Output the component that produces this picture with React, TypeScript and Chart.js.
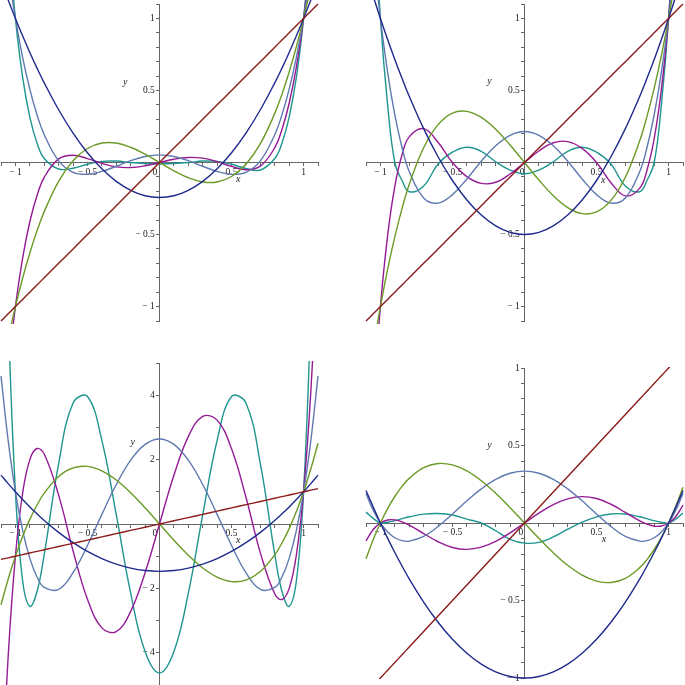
import React, { useEffect, useRef } from "react";
import { Chart, registerables } from "chart.js";

Chart.register(...registerables);

// ---------- data ----------
const xGrid = [-1.1, -1.05, -1, -0.95, -0.9, -0.85, -0.8, -0.7, -0.6, -0.5, -0.4, -0.3, -0.2, -0.1, 0, 0.1, 0.2, 0.3, 0.4, 0.5, 0.6, 0.7, 0.8, 0.85, 0.9, 0.95, 1, 1.05, 1.1];

const xTickLabels = [-1, -0.5, 0, 0.5, 1];
const yTickLabelsUnit = [-1, -0.5, 0.5, 1];
const yTickLabelsWide = [-4, -2, 2, 4];

// top-left panel
const tlRed = [-1.1, -1.05, -1, -0.95, -0.9, -0.85, -0.8, -0.7, -0.6, -0.5, -0.4, -0.3, -0.2, -0.1, 0, 0.1, 0.2, 0.3, 0.4, 0.5, 0.6, 0.7, 0.8, 0.85, 0.9, 0.95, 1, 1.05, 1.1];
const tlBlue = [1.261, 1.127, 1.0, 0.879, 0.764, 0.655, 0.553, 0.366, 0.204, 0.068, -0.044, -0.131, -0.193, -0.231, -0.243, -0.231, -0.193, -0.131, -0.044, 0.068, 0.204, 0.366, 0.553, 0.655, 0.764, 0.879, 1.0, 1.127, 1.261];
const tlGreen = [-1.468, -1.221, -1.0, -0.803, -0.628, -0.474, -0.341, -0.131, 0.012, 0.097, 0.135, 0.135, 0.106, 0.058, 0, -0.058, -0.106, -0.135, -0.135, -0.097, -0.012, 0.131, 0.341, 0.474, 0.628, 0.803, 1.0, 1.221, 1.468];
const tlSlate = [1.713, 1.326, 1.0, 0.73, 0.509, 0.331, 0.193, 0.011, -0.068, -0.082, -0.062, -0.026, 0.013, 0.042, 0.053, 0.042, 0.013, -0.026, -0.062, -0.082, -0.068, 0.011, 0.193, 0.331, 0.509, 0.73, 1.0, 1.326, 1.713];
const tlPurple = [-2.002, -1.44, -1.0, -0.663, -0.411, -0.229, -0.103, 0.025, 0.05, 0.027, -0.006, -0.03, -0.035, -0.023, 0, 0.023, 0.035, 0.03, 0.006, -0.027, -0.05, -0.025, 0.103, 0.229, 0.411, 0.663, 1.0, 1.44, 2.002];
const tlTeal = [2.365, 1.576, 1.0, 0.592, 0.315, 0.135, 0.028, -0.045, -0.04, -0.012, 0.008, 0.01, 0.0, -0.007, -0.01, -0.007, 0.0, 0.01, 0.008, -0.012, -0.042, -0.052, 0.028, 0.135, 0.315, 0.592, 1.0, 1.576, 2.365];

// top-right panel
const trRed = [-1.1, -1.05, -1, -0.95, -0.9, -0.85, -0.8, -0.7, -0.6, -0.5, -0.4, -0.3, -0.2, -0.1, 0, 0.1, 0.2, 0.3, 0.4, 0.5, 0.6, 0.7, 0.8, 0.85, 0.9, 0.95, 1, 1.05, 1.1];
const trBlue = [1.315, 1.154, 1.0, 0.854, 0.715, 0.584, 0.46, 0.235, 0.04, -0.125, -0.26, -0.365, -0.44, -0.485, -0.5, -0.485, -0.44, -0.365, -0.26, -0.125, 0.04, 0.235, 0.46, 0.584, 0.715, 0.854, 1.0, 1.154, 1.315];
const trGreen = [-1.619, -1.292, -1.0, -0.742, -0.516, -0.32, -0.152, 0.102, 0.263, 0.343, 0.355, 0.313, 0.231, 0.122, 0, -0.122, -0.231, -0.313, -0.355, -0.343, -0.263, -0.102, 0.152, 0.32, 0.516, 0.742, 1.0, 1.292, 1.619];
const trSlate = [2.024, 1.463, 1.0, 0.625, 0.33, 0.104, -0.062, -0.246, -0.282, -0.223, -0.114, 0.009, 0.116, 0.189, 0.215, 0.189, 0.116, 0.009, -0.114, -0.223, -0.282, -0.246, -0.062, 0.104, 0.33, 0.625, 1.0, 1.463, 2.024];
const trPurple = [-2.581, -1.679, -1.0, -0.507, -0.165, 0.054, 0.178, 0.235, 0.14, 0.0, -0.098, -0.145, -0.137, -0.08, 0, 0.08, 0.137, 0.145, 0.098, 0.0, -0.14, -0.232, -0.178, -0.054, 0.165, 0.507, 1.0, 1.679, 2.581];
const trTeal = [3.2, 1.9, 1.0, 0.4, 0.0, -0.125, -0.203, -0.163, -0.01, 0.072, 0.106, 0.078, 0.005, -0.053, -0.078, -0.053, 0.005, 0.078, 0.106, 0.072, -0.01, -0.163, -0.203, -0.125, 0.0, 0.4, 1.0, 1.9, 3.2];

// bottom-left panel
const blRed = [-1.1, -1.05, -1, -0.95, -0.9, -0.85, -0.8, -0.7, -0.6, -0.5, -0.4, -0.3, -0.2, -0.1, 0, 0.1, 0.2, 0.3, 0.4, 0.5, 0.6, 0.7, 0.8, 0.85, 0.9, 0.95, 1, 1.05, 1.1];
const blBlue = [1.519, 1.253, 1.0, 0.759, 0.531, 0.315, 0.111, -0.26, -0.581, -0.853, -1.075, -1.248, -1.371, -1.445, -1.47, -1.445, -1.371, -1.248, -1.075, -0.853, -0.581, -0.26, 0.111, 0.315, 0.531, 0.759, 1.0, 1.253, 1.519];
const blGreen = [-2.509, -1.706, -1.0, -0.385, 0.143, 0.589, 0.957, 1.478, 1.742, 1.788, 1.65, 1.365, 0.971, 0.504, 0, -0.504, -0.971, -1.365, -1.65, -1.788, -1.742, -1.478, -0.957, -0.589, -0.143, 0.385, 1.0, 1.706, 2.509];
const blSlate = [4.59, 2.582, 1.0, -0.2, -1.067, -1.644, -1.971, -2.028, -1.513, -0.669, 0.3, 1.227, 1.983, 2.473, 2.642, 2.473, 1.983, 1.227, 0.3, -0.669, -1.513, -2.028, -1.971, -1.644, -1.067, -0.2, 1.0, 2.582, 4.59];
const blPurple = [-8.62, -4.1, -1.0, 0.955, 1.999, 2.344, 2.173, 0.896, -0.831, -2.335, -3.225, -3.341, -2.713, -1.512, 0, 1.512, 2.713, 3.341, 3.225, 2.335, 0.831, -0.896, -2.173, -2.344, -1.999, -0.955, 1.0, 4.1, 8.62];
const blTeal = [16.18, 6.62, 1.0, -1.763, -2.557, -2.098, -0.943, 1.868, 3.758, 3.961, 2.596, 0.289, -2.149, -3.963, -4.63, -3.963, -2.149, 0.289, 2.596, 3.961, 3.758, 1.868, -0.943, -2.098, -2.557, -1.763, 1.0, 6.62, 16.18];

// bottom-right panel
const brRed = [-1.1, -1.05, -1, -0.95, -0.9, -0.85, -0.8, -0.7, -0.6, -0.5, -0.4, -0.3, -0.2, -0.1, 0, 0.1, 0.2, 0.3, 0.4, 0.5, 0.6, 0.7, 0.8, 0.85, 0.9, 0.95, 1, 1.05, 1.1];
const brBlue = [0.21, 0.1025, 0, -0.0975, -0.19, -0.2775, -0.36, -0.51, -0.64, -0.75, -0.84, -0.91, -0.96, -0.99, -1, -0.99, -0.96, -0.91, -0.84, -0.75, -0.64, -0.51, -0.36, -0.2775, -0.19, -0.0975, 0, 0.1025, 0.21];
const brGreen = [-0.231, -0.108, 0, 0.093, 0.171, 0.236, 0.288, 0.357, 0.384, 0.375, 0.336, 0.273, 0.192, 0.099, 0, -0.099, -0.192, -0.273, -0.336, -0.375, -0.384, -0.357, -0.288, -0.236, -0.171, -0.093, 0, 0.108, 0.231];
const brSlate = [0.191, 0.082, 0, -0.058, -0.095, -0.114, -0.117, -0.087, -0.023, 0.058, 0.143, 0.22, 0.282, 0.321, 0.335, 0.321, 0.282, 0.22, 0.143, 0.058, -0.023, -0.087, -0.117, -0.114, -0.095, -0.058, 0, 0.082, 0.191];
const brPurple = [-0.115, -0.042, 0, 0.019, 0.02, 0.007, -0.014, -0.068, -0.121, -0.158, -0.17, -0.156, -0.119, -0.064, 0, 0.064, 0.119, 0.156, 0.17, 0.158, 0.121, 0.068, 0.014, -0.007, -0.02, -0.019, 0, 0.042, 0.115];
const brTeal = [0.07, 0.03, 0, 0.005, 0.015, 0.028, 0.04, 0.057, 0.061, 0.052, 0.025, 0.0, -0.05, -0.105, -0.13, -0.125, -0.09, -0.04, 0.005, 0.04, 0.058, 0.058, 0.04, 0.028, 0.015, 0.005, 0, 0.025, 0.065];

// ---------- styling ----------
const RED = "#8b1a1a";
const BLUE = "#1f2a8c";
const GREEN = "#6b9a26";
const SLATE = "#6079b0";
const PURPLE = "#951b95";
const TEAL = "#1f958f";
const AXIS = "#666666";
const TEXT = "#222222";
const FONT = '"Liberation Serif", "Times New Roman", serif';
const PAD = 20;

type Spec = {
  key: string;
  left: number;
  top: number;
  w: number;
  h: number;
  yMin: number;
  yMax: number;
  yStep: number;
  yLabels: number[];
  zeroPad: string;
  clip: { left: number; right: number; top: number; bottom: number };
  xName: [number, number];
  yName: [number, number];
  series: [string, number[]][];
};

const specs: Spec[] = [
  {
    key: "tl", left: -19, top: -16, w: 357, h: 357,
    yMin: -1.1, yMax: 1.1, yStep: 0.1, yLabels: yTickLabelsUnit, zeroPad: "    ",
    clip: { left: 2, right: 2, top: 4, bottom: 3 },
    xName: [0.547, -0.116], yName: [-0.238, 0.558],
    series: [[RED, tlRed], [BLUE, tlBlue], [GREEN, tlGreen], [SLATE, tlSlate], [PURPLE, tlPurple], [TEAL, tlTeal]],
  },
  {
    key: "tr", left: 346, top: -16, w: 357, h: 357,
    yMin: -1.1, yMax: 1.1, yStep: 0.1, yLabels: yTickLabelsUnit, zeroPad: "  ",
    clip: { left: 2, right: 2, top: 4, bottom: 3 },
    xName: [0.547, -0.123], yName: [-0.243, 0.56],
    series: [[RED, trRed], [BLUE, trBlue], [GREEN, trGreen], [SLATE, trSlate], [PURPLE, trPurple], [TEAL, trTeal]],
  },
  {
    key: "bl", left: -19, top: 343, w: 357, h: 362,
    yMin: -5, yMax: 5, yStep: 1, yLabels: yTickLabelsWide, zeroPad: "    ",
    clip: { left: 2, right: 2, top: 2, bottom: 1 },
    xName: [0.547, -0.52], yName: [-0.185, 2.52],
    series: [[RED, blRed], [BLUE, blBlue], [GREEN, blGreen], [SLATE, blSlate], [PURPLE, blPurple], [TEAL, blTeal]],
  },
  {
    key: "br", left: 346, top: 348, w: 357, h: 350,
    yMin: -1, yMax: 1, yStep: 0.1, yLabels: yTickLabelsUnit, zeroPad: "   ",
    clip: { left: 2, right: 2, top: 1, bottom: 1 },
    xName: [0.552, -0.107], yName: [-0.243, 0.5],
    series: [[RED, brRed], [BLUE, brBlue], [GREEN, brGreen], [SLATE, brSlate], [PURPLE, brPurple], [TEAL, brTeal]],
  },
];

const fmt = (v: number) => (v < 0 ? "\u2212 " + String(Math.abs(v)) : String(v));

function findLabel(list: number[], value: number) {
  const v = Math.round(Number(value) * 1000) / 1000;
  return list.find((t) => Math.abs(t - v) < 1e-6);
}

function Panel({ spec }: { spec: Spec }) {
  const ref = useRef<HTMLCanvasElement | null>(null);

  useEffect(() => {
    const canvas = ref.current;
    if (!canvas) return;

    const namesPlugin = {
      id: "axisNames" + spec.key,
      afterDatasetsDraw(chart: any) {
        const { ctx, scales } = chart;
        ctx.save();
        ctx.font = "italic 10px " + FONT;
        ctx.fillStyle = TEXT;
        ctx.textAlign = "center";
        ctx.textBaseline = "middle";
        ctx.fillText("x", scales.x.getPixelForValue(spec.xName[0]), scales.y.getPixelForValue(spec.xName[1]));
        ctx.fillText("y", scales.x.getPixelForValue(spec.yName[0]), scales.y.getPixelForValue(spec.yName[1]));
        ctx.restore();
      },
    };

    const chart = new Chart(canvas, {
      type: "line",
      data: {
        datasets: spec.series.map(([color, vals]) => ({
          data: xGrid.map((x, i) => ({ x, y: vals[i] })),
          borderColor: color,
          backgroundColor: color,
          borderWidth: 1.4,
          pointRadius: 0,
          pointHoverRadius: 0,
          tension: 0.4,
          fill: false,
          clip: spec.clip,
        })),
      },
      options: {
        animation: false,
        responsive: false,
        maintainAspectRatio: false,
        events: [],
        layout: { padding: PAD },
        plugins: { legend: { display: false }, tooltip: { enabled: false }, title: { display: false } },
        scales: {
          x: {
            type: "linear",
            min: -1.1,
            max: 1.1,
            position: { y: 0 },
            grid: { display: true, drawOnChartArea: false, drawTicks: true, tickLength: 3, color: AXIS, lineWidth: 1 },
            border: { display: true, color: AXIS, width: 1 },
            ticks: {
              stepSize: 0.1,
              autoSkip: false,
              maxRotation: 0,
              minRotation: 0,
              padding: 1,
              color: TEXT,
              font: { family: FONT, size: 9.5 },
              callback: (value: any) => {
                const hit = findLabel(xTickLabels, value);
                if (hit === undefined) return "";
                if (hit === 0) return "0" + spec.zeroPad;
                return fmt(hit);
              },
            },
          },
          y: {
            type: "linear",
            min: spec.yMin,
            max: spec.yMax,
            position: { x: 0 },
            grid: { display: true, drawOnChartArea: false, drawTicks: true, tickLength: 3, color: AXIS, lineWidth: 1 },
            border: { display: true, color: AXIS, width: 1 },
            ticks: {
              stepSize: spec.yStep,
              autoSkip: false,
              padding: 1,
              color: TEXT,
              font: { family: FONT, size: 9.5 },
              callback: (value: any) => {
                const hit = findLabel(spec.yLabels, value);
                if (hit === undefined) return "";
                return fmt(hit) + "  ";
              },
            },
          },
        },
      } as any,
      plugins: [namesPlugin],
    });

    return () => chart.destroy();
  }, [spec]);

  return (
    <canvas
      ref={ref}
      width={spec.w}
      height={spec.h}
      style={{ position: "absolute", left: spec.left, top: spec.top, width: spec.w, height: spec.h }}
    />
  );
}

export default function App() {
  return (
    <div
      style={{
        position: "absolute",
        left: 0,
        top: 0,
        width: 685,
        height: 685,
        overflow: "hidden",
        background: "#ffffff",
      }}
    >
      {specs.map((s) => (
        <Panel key={s.key} spec={s} />
      ))}
    </div>
  );
}
